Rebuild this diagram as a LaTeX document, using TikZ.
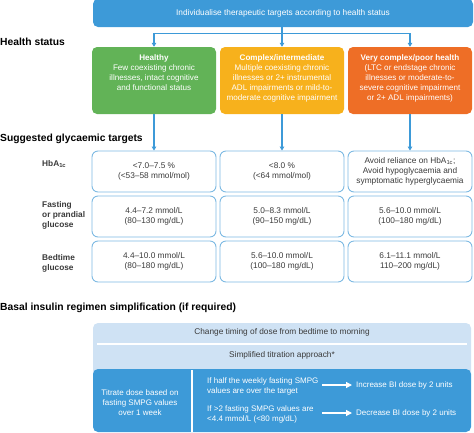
\documentclass[tikz,border=0pt]{standalone}
\usepackage{fontspec}
\setmainfont{Liberation Sans}
\usetikzlibrary{arrows.meta}
\definecolor{blu}{HTML}{3D9AD8}
\definecolor{hgreen}{HTML}{62B357}
\definecolor{hyellow}{HTML}{F7B11C}
\definecolor{horange}{HTML}{EE6E26}
\definecolor{lblue}{HTML}{CFE2F4}
\definecolor{rowline}{HTML}{7DB9E2}
\definecolor{txt}{HTML}{3A3A3A}
\begin{document}
\begin{tikzpicture}[x=1pt,y=-1pt,
  every node/.style={inner sep=0pt, font=\fontsize{8.3}{10}\selectfont},
  topbox/.style={fill=blu, rounded corners=5pt, minimum width=380pt, minimum height=28pt, text=white},
  hbox/.style={rounded corners=5pt, minimum width=124pt, minimum height=67pt},
  htext/.style={anchor=north, align=center, text=white, font=\fontsize{8.1}{10}\selectfont},
  tbox/.style={draw=rowline, line width=0.9pt, rounded corners=6pt, minimum width=124pt, minimum height=41pt, align=center, text=txt},
  rowlab/.style={anchor=west, align=left, font=\fontsize{8.3}{10}\selectfont\bfseries, text=txt},
  head/.style={anchor=west, font=\fontsize{10.3}{12}\selectfont\bfseries, text=black},
  conn/.style={draw=blu, line width=1.3pt, -{Triangle[length=4pt,width=4.5pt]}},
  wtext/.style={text=white, align=left, anchor=west, font=\fontsize{8}{10}\selectfont},
  warrow/.style={draw=white, line width=1.2pt, -{Triangle[length=6pt,width=6pt]}}
]
\useasboundingbox (0,0) rectangle (474,432);

% top box
\node[topbox] (top) at (283,13) {Individualise therapeutic targets according to health status};

% headings
\node[head] (hs) at (0,42) {Health status};
\node[head] (gt) at (0,139) {Suggested glycaemic targets};
\node[head] (bi) at (0,308) {Basal insulin regimen simplification (if required)};

% health boxes
\node[hbox, fill=hgreen] (h1) at (154,80.5) {};
\node[hbox, fill=hyellow] (h2) at (282,80.5) {};
\node[hbox, fill=horange] (h3) at (410,80.5) {};
\node[htext] (h1t) at (154,54.5) {\textbf{Healthy}\\Few coexisting chronic\\illnesses, intact cognitive\\and functional status};
\node[htext] (h2t) at (282,54.5) {\textbf{Complex/intermediate}\\Multiple coexisting chronic\\illnesses or 2+ instrumental\\ADL impairments or mild-to-\\moderate cognitive impairment};
\node[htext] (h3t) at (410,54.5) {\textbf{Very complex/poor health}\\(LTC or endstage chronic\\illnesses or moderate-to-\\severe cognitive impairment\\or 2+ ADL impairments)};

% connectors from top
\draw[conn] (h2.north |- top.south) -- (h2.north);
\draw[conn] (h2.north |- top.south) -- ++(0,6) -| (h1.north);
\draw[conn] (h2.north |- top.south) -- ++(0,6) -| (h3.north);

% row labels
\node[rowlab] (l1) at (42,164) {HbA\textsubscript{1c}};
\node[rowlab] (l2) at (42,215) {Fasting\\or prandial\\glucose};
\node[rowlab] (l3) at (42,263) {Bedtime\\glucose};

% target boxes
\node[tbox] (r11) at (154,171.5) {<7.0–7.5 \%\\(<53–58 mmol/mol)};
\node[tbox] (r12) at (282,171.5) {<8.0 \%\\(<64 mmol/mol)};
\node[tbox] (r13) at (410,171.5) {Avoid reliance on HbA\textsubscript{1c};\\Avoid hypoglycaemia and\\symptomatic hyperglycaemia};
\node[tbox] (r21) at (154,216.5) {4.4–7.2 mmol/L\\(80–130 mg/dL)};
\node[tbox] (r22) at (282,216.5) {5.0–8.3 mmol/L\\(90–150 mg/dL)};
\node[tbox] (r23) at (410,216.5) {5.6–10.0 mmol/L\\(100–180 mg/dL)};
\node[tbox] (r31) at (154,261.5) {4.4–10.0 mmol/L\\(80–180 mg/dL)};
\node[tbox] (r32) at (282,261.5) {5.6–10.0 mmol/L\\(100–180 mg/dL)};
\node[tbox] (r33) at (410,261.5) {6.1–11.1 mmol/L\\110–200 mg/dL)};

\draw[conn] (h1.south) -- (r11.north);
\draw[conn] (h2.south) -- (r12.north);
\draw[conn] (h3.south) -- (r13.north);

% basal insulin section
\node[fill=lblue, rounded corners=5pt, minimum width=378pt, minimum height=56pt] (lb) at (282,351) {};
\node[fill=blu, rounded corners=5pt, minimum width=378pt, minimum height=63pt] (db) at (282,400.5) {};
\coordinate (wl1) at (97,344);
\coordinate (wl2) at (467,344);
\draw[white, line width=2pt] (wl1) -- (wl2);
\node[text=txt] (c1) at (282,332) {Change timing of dose from bedtime to morning};
\node[text=txt] (c2) at (282,355.5) {Simplified titration approach*};
\coordinate (dv1) at (192,370);
\coordinate (dv2) at (192,432);
\draw[white, line width=2.2pt] (dv1) -- (dv2);
\node[text=white, align=center, font=\fontsize{8}{10}\selectfont] (td) at (140,403) {Titrate dose based on\\fasting SMPG values\\over 1 week};
\node[wtext] (q1) at (207,386) {If half the weekly fasting SMPG\\values are over the target};
\node[wtext] (q2) at (207,414) {If >2 fasting SMPG values are\\<4.4 mmol/L (<80 mg/dL)};
\node[wtext] (inc) at (356,385) {Increase BI dose by 2 units};
\node[wtext] (dec) at (356,413) {Decrease BI dose by 2 units};
\coordinate (a1) at (322,385);
\coordinate (a2) at (322,413);
\draw[warrow] (a1) -- ([xshift=-4pt]inc.west);
\draw[warrow] (a2) -- ([xshift=-4pt]dec.west);
\end{tikzpicture}
\end{document}
